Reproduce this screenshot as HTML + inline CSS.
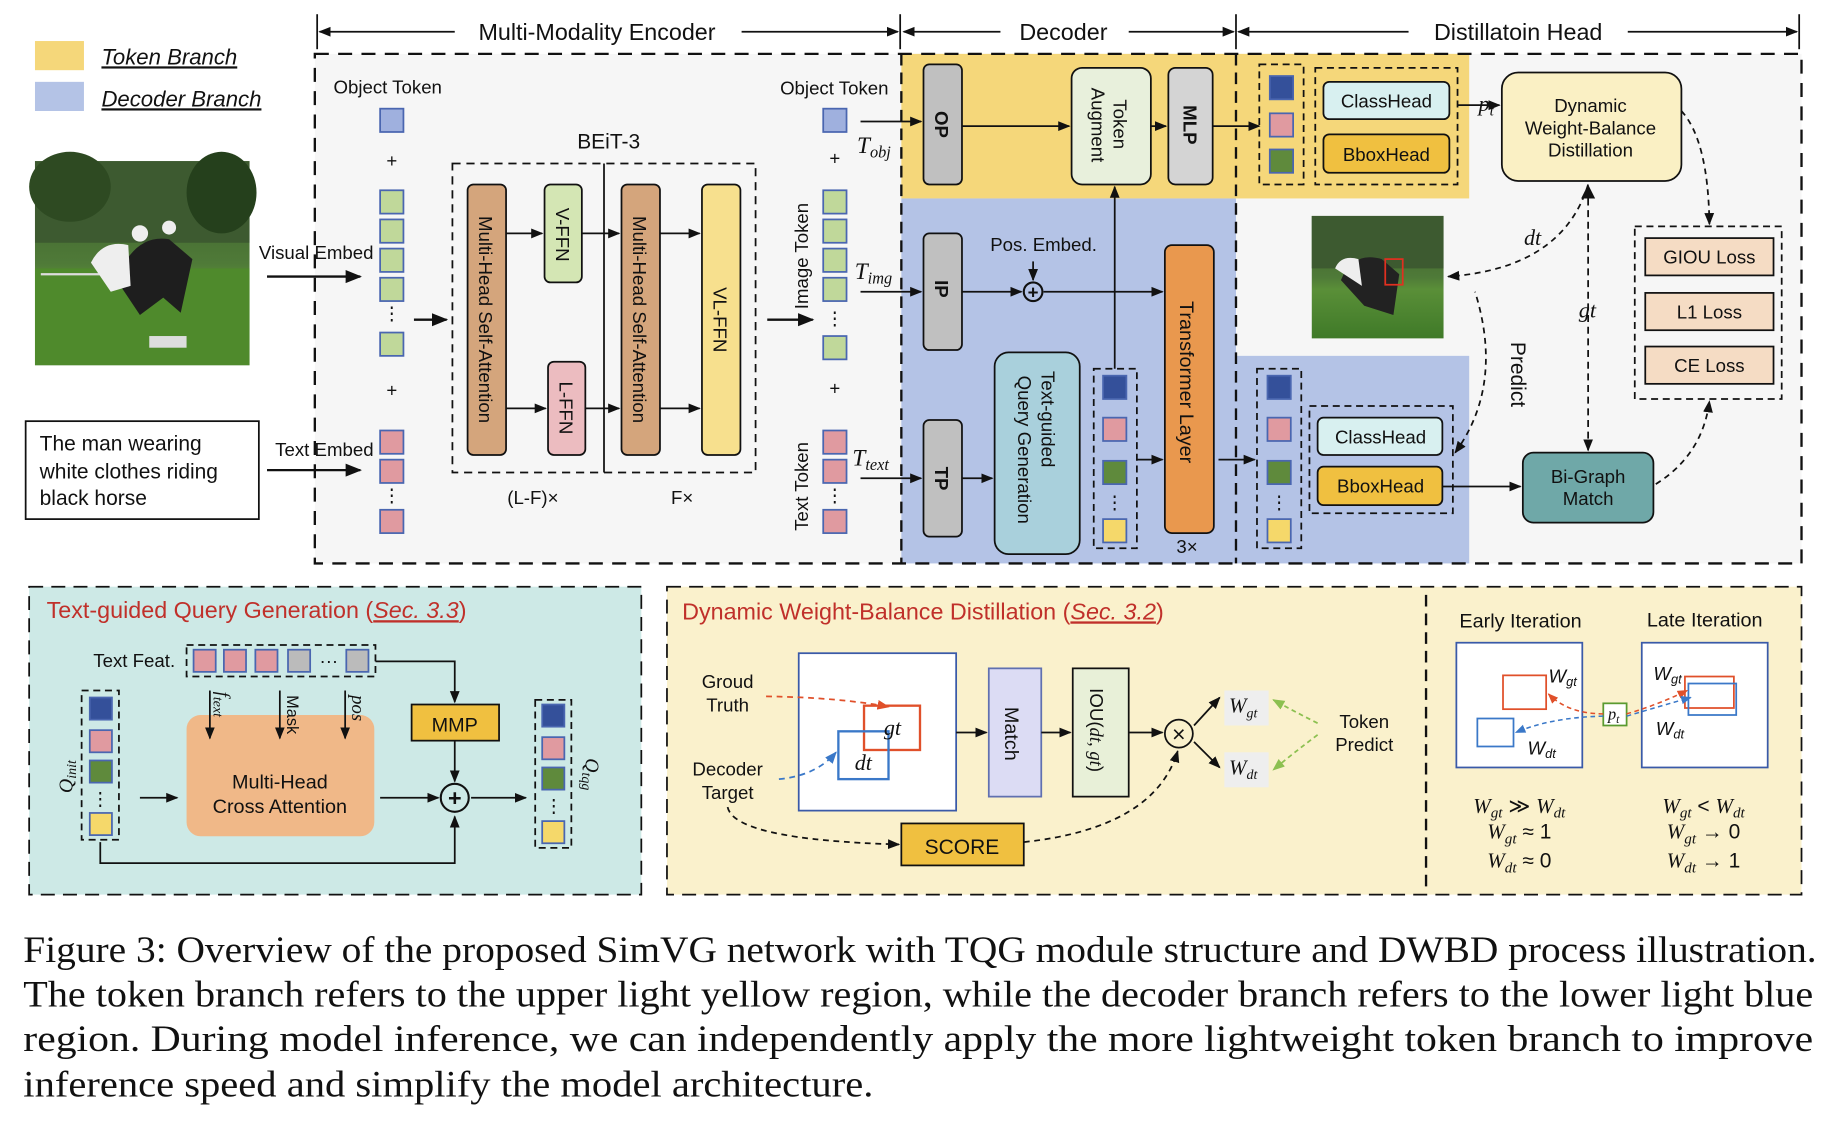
<!DOCTYPE html>
<html><head><meta charset="utf-8"><style>
html,body{margin:0;padding:0;background:#fff;}
svg{display:block}
text{font-family:"Liberation Sans",sans-serif;fill:#111}
.s{font-size:16px}
.m{font-family:"Liberation Serif",serif;font-style:italic}
.cap{font-family:"Liberation Serif",serif;font-size:32px}
</style></head><body>
<svg width="1826" height="1128" viewBox="0 0 1566 967" xmlns="http://www.w3.org/2000/svg">
<defs>
<marker id="a" viewBox="0 0 10 10" refX="9" refY="5" markerWidth="7" markerHeight="7" orient="auto-start-reverse"><path d="M0,1 L10,5 L0,9 z" fill="#111"/></marker>
<marker id="ar" viewBox="0 0 10 10" refX="9" refY="5" markerWidth="7" markerHeight="7" orient="auto"><path d="M0,1 L10,5 L0,9 z" fill="#e0502a"/></marker>
<marker id="ab" viewBox="0 0 10 10" refX="9" refY="5" markerWidth="7" markerHeight="7" orient="auto"><path d="M0,1 L10,5 L0,9 z" fill="#3a78c8"/></marker>
<marker id="ag" viewBox="0 0 10 10" refX="9" refY="5" markerWidth="7" markerHeight="7" orient="auto"><path d="M0,1 L10,5 L0,9 z" fill="#8cc050"/></marker>
<linearGradient id="ph" x1="0" y1="0" x2="0" y2="1"><stop offset="0" stop-color="#3a5a2a"/><stop offset="0.5" stop-color="#4f7a38"/><stop offset="0.6" stop-color="#5a8f38"/><stop offset="1" stop-color="#3f7a28"/></linearGradient>
</defs>

<!-- legend -->
<rect x="30" y="35" width="42" height="25" fill="#f5d77a"/>
<rect x="30" y="70" width="42" height="25" fill="#b4c3e6"/>
<text x="87" y="55" font-style="italic" text-decoration="underline" font-size="19">Token Branch</text>
<text x="87" y="91" font-style="italic" text-decoration="underline" font-size="19">Decoder Branch</text>

<!-- header -->
<g stroke="#111" stroke-width="1.5">
<line x1="272" y1="12" x2="272" y2="42"/><line x1="772" y1="12" x2="772" y2="42"/><line x1="1060" y1="12" x2="1060" y2="42"/><line x1="1543" y1="12" x2="1543" y2="42"/>
<line x1="274" y1="27" x2="390" y2="27" marker-start="url(#a)"/><line x1="636" y1="27" x2="770" y2="27" marker-end="url(#a)"/>
<line x1="775" y1="27" x2="858" y2="27" marker-start="url(#a)"/><line x1="968" y1="27" x2="1058" y2="27" marker-end="url(#a)"/>
<line x1="1062" y1="27" x2="1208" y2="27" marker-start="url(#a)"/><line x1="1396" y1="27" x2="1541" y2="27" marker-end="url(#a)"/>
</g>
<text x="512" y="34" font-size="20" text-anchor="middle">Multi-Modality Encoder</text>
<text x="912" y="34" font-size="20" text-anchor="middle">Decoder</text>
<text x="1302" y="34" font-size="20" text-anchor="middle">Distillatoin Head</text>

<!-- main region -->
<rect x="270" y="46" width="1275" height="437" fill="#f6f6f6"/>
<rect x="773" y="46" width="487" height="124" fill="#f5d77a"/>
<rect x="773" y="170" width="287" height="313" fill="#b4c3e6"/>
<rect x="1060" y="305" width="200" height="178" fill="#b4c3e6"/>
<rect x="270" y="46" width="1275" height="437" fill="none" stroke="#111" stroke-width="2" stroke-dasharray="12,8"/>
<line x1="773" y1="46" x2="773" y2="483" stroke="#111" stroke-width="2" stroke-dasharray="10,6"/>
<line x1="1060" y1="46" x2="1060" y2="483" stroke="#111" stroke-width="2" stroke-dasharray="10,6"/>

<!-- photo -->
<rect x="30" y="138" width="184" height="175" fill="url(#ph)"/>
<rect x="30" y="138" width="184" height="70" fill="#3d5a30"/>
<ellipse cx="60" cy="160" rx="35" ry="30" fill="#2e4a22"/><ellipse cx="190" cy="165" rx="30" ry="35" fill="#25401c"/>
<rect x="30" y="230" width="184" height="83" fill="#4f8a2c"/>
<line x1="35" y1="235" x2="100" y2="235" stroke="#ddd" stroke-width="2"/>
<path d="M100 240 Q115 200 145 205 L165 222 L155 268 L140 255 L120 270 Z" fill="#1e1e1e"/>
<path d="M78 225 Q88 205 110 210 L112 245 L95 250 Z" fill="#eee"/>
<circle cx="120" cy="200" r="7" fill="#eee"/><circle cx="145" cy="195" r="6" fill="#eee"/>
<rect x="128" y="288" width="32" height="10" fill="#ddd"/>

<!-- text box -->
<rect x="22" y="361" width="200" height="84" fill="#fff" stroke="#111" stroke-width="1.5"/>
<text x="34" y="386" font-size="18">The man wearing</text>
<text x="34" y="410" font-size="18">white clothes riding</text>
<text x="34" y="433" font-size="18">black horse</text>

<g stroke="#111" stroke-width="2">
<line x1="229" y1="237" x2="309" y2="237" marker-end="url(#a)"/>
<line x1="229" y1="403" x2="309" y2="403" marker-end="url(#a)"/>
<line x1="355" y1="274" x2="383" y2="274" marker-end="url(#a)"/>
<line x1="658" y1="274" x2="697" y2="274" marker-end="url(#a)"/>
</g>
<text x="222" y="222" class="s">Visual Embed</text>
<text x="236" y="391" class="s">Text Embed</text>

<!-- token columns -->
<g stroke="#4a66b0" stroke-width="1.5">
<rect x="326" y="93" width="20" height="20" fill="#9fb0de"/>
<rect x="326" y="163" width="20" height="20" fill="#c0d89a"/><rect x="326" y="188" width="20" height="20" fill="#c0d89a"/><rect x="326" y="213" width="20" height="20" fill="#c0d89a"/><rect x="326" y="238" width="20" height="20" fill="#c0d89a"/><rect x="326" y="285" width="20" height="20" fill="#c0d89a"/>
<rect x="326" y="369" width="20" height="20" fill="#e09aa0"/><rect x="326" y="394" width="20" height="20" fill="#e09aa0"/><rect x="326" y="437" width="20" height="20" fill="#e09aa0"/>
<rect x="706" y="93" width="20" height="20" fill="#9fb0de"/>
<rect x="706" y="163" width="20" height="20" fill="#c0d89a"/><rect x="706" y="188" width="20" height="20" fill="#c0d89a"/><rect x="706" y="213" width="20" height="20" fill="#c0d89a"/><rect x="706" y="238" width="20" height="20" fill="#c0d89a"/><rect x="706" y="288" width="20" height="20" fill="#c0d89a"/>
<rect x="706" y="369" width="20" height="20" fill="#e09aa0"/><rect x="706" y="394" width="20" height="20" fill="#e09aa0"/><rect x="706" y="437" width="20" height="20" fill="#e09aa0"/>
</g>
<g font-size="16" text-anchor="middle">
<text x="336" y="143">+</text><text x="336" y="274">⋮</text><text x="336" y="340">+</text><text x="336" y="430">⋮</text>
<text x="716" y="141">+</text><text x="716" y="278">⋮</text><text x="716" y="338">+</text><text x="716" y="430">⋮</text>
</g>
<text x="286" y="80" class="s">Object Token</text>
<text x="669" y="81" class="s">Object Token</text>
<text transform="translate(693,265) rotate(-90)" class="s">Image Token</text>
<text transform="translate(693,455) rotate(-90)" class="s">Text Token</text>

<!-- BEiT-3 -->
<text x="522" y="127" font-size="18" text-anchor="middle">BEiT-3</text>
<rect x="388" y="140" width="260" height="265" fill="none" stroke="#111" stroke-width="1.5" stroke-dasharray="7,5"/>
<line x1="518" y1="140" x2="518" y2="405" stroke="#111" stroke-width="1.5"/>
<g stroke="#111" stroke-width="1.5">
<rect x="401" y="158" width="33" height="232" rx="5" fill="#d4a57c"/>
<rect x="467" y="158" width="32" height="84" rx="5" fill="#d4e6b4"/>
<rect x="470" y="310" width="32" height="80" rx="5" fill="#ecbcc0"/>
<rect x="533" y="158" width="33" height="232" rx="5" fill="#d4a57c"/>
<rect x="602" y="158" width="33" height="232" rx="5" fill="#f7e08e"/>
<line x1="434" y1="200" x2="465" y2="200" marker-end="url(#a)"/>
<line x1="434" y1="350" x2="468" y2="350" marker-end="url(#a)"/>
<line x1="499" y1="200" x2="531" y2="200" marker-end="url(#a)"/>
<line x1="502" y1="350" x2="531" y2="350" marker-end="url(#a)"/>
<line x1="566" y1="200" x2="600" y2="200" marker-end="url(#a)"/>
<line x1="566" y1="350" x2="600" y2="350" marker-end="url(#a)"/>
</g>
<g class="s">
<text transform="translate(411,185) rotate(90)">Multi-Head Self-Attention</text>
<text transform="translate(477,178) rotate(90)">V-FFN</text>
<text transform="translate(480,327) rotate(90)">L-FFN</text>
<text transform="translate(543,185) rotate(90)">Multi-Head Self-Attention</text>
<text transform="translate(612,246) rotate(90)">VL-FFN</text>
</g>
<text x="457" y="432" class="s" text-anchor="middle">(L-F)×</text>
<text x="585" y="432" class="s" text-anchor="middle">F×</text>

<!-- decoder -->
<text x="735" y="131" class="m" font-size="20">T<tspan font-size="14" dy="4">obj</tspan></text>
<text x="733" y="239" class="m" font-size="20">T<tspan font-size="14" dy="4">img</tspan></text>
<text x="731" y="399" class="m" font-size="20">T<tspan font-size="14" dy="4">text</tspan></text>
<g stroke="#111" stroke-width="1.5">
<rect x="792" y="55" width="33" height="103" rx="5" fill="#c0c0c0"/>
<rect x="919" y="58" width="68" height="100" rx="9" fill="#e8f0dc"/>
<rect x="1002" y="58" width="38" height="100" rx="6" fill="#d4d4d4"/>
<rect x="792" y="200" width="33" height="100" rx="5" fill="#c0c0c0"/>
<rect x="792" y="360" width="33" height="100" rx="5" fill="#c0c0c0"/>
<rect x="853" y="302" width="73" height="173" rx="12" fill="#a9d0dc"/>
<rect x="999" y="210" width="42" height="247" rx="6" fill="#e9984e"/>
</g>
<g stroke="#111" stroke-width="1.5">
<line x1="738" y1="104" x2="790" y2="104" marker-end="url(#a)"/>
<line x1="825" y1="108" x2="917" y2="108" marker-end="url(#a)"/>
<line x1="987" y1="108" x2="1000" y2="108" marker-end="url(#a)"/>
<line x1="1040" y1="108" x2="1080" y2="108" marker-end="url(#a)"/>
<line x1="738" y1="250" x2="790" y2="250" marker-end="url(#a)"/>
<line x1="825" y1="250" x2="876" y2="250" marker-end="url(#a)"/>
<line x1="895" y1="250" x2="997" y2="250" marker-end="url(#a)"/>
<line x1="886" y1="224" x2="886" y2="240" marker-end="url(#a)"/>
<line x1="738" y1="410" x2="790" y2="410" marker-end="url(#a)"/>
<line x1="825" y1="410" x2="851" y2="410" marker-end="url(#a)"/>
<line x1="956" y1="316" x2="956" y2="160" marker-end="url(#a)"/>
<line x1="975" y1="394" x2="997" y2="394" marker-end="url(#a)"/>
<line x1="1045" y1="394" x2="1076" y2="394" marker-end="url(#a)"/>
</g>
<circle cx="886" cy="250" r="8" fill="none" stroke="#111" stroke-width="1.8"/>
<text x="886" y="256" text-anchor="middle" font-size="16" font-weight="bold">+</text>
<text x="895" y="215" class="s" text-anchor="middle">Pos. Embed.</text>
<g font-size="16" font-weight="bold">
<text transform="translate(802,95) rotate(90)">OP</text>
<text transform="translate(802,240) rotate(90)">IP</text>
<text transform="translate(802,400) rotate(90)">TP</text>
<text transform="translate(1015,90) rotate(90)">MLP</text>
</g>
<g class="s">
<text transform="translate(955,85) rotate(90)">Token</text>
<text transform="translate(936,75) rotate(90)">Augment</text>
<text transform="translate(893,318) rotate(90)">Text-guided</text>
<text transform="translate(873,322) rotate(90)">Query Generation</text>
<text transform="translate(1012,258) rotate(90)" font-size="17">Transformer Layer</text>
</g>
<text x="1018" y="474" class="s" text-anchor="middle">3×</text>

<!-- token stacks in decoder -->
<g fill="none" stroke="#111" stroke-width="1.5" stroke-dasharray="6,4">
<rect x="938" y="316" width="37" height="154"/>
<rect x="1078" y="316" width="38" height="154"/>
<rect x="1080" y="55" width="38" height="103"/>
<rect x="1128" y="58" width="122" height="100"/>
<rect x="1123" y="348" width="123" height="92"/>
</g>
<g stroke="#4a66b0" stroke-width="1.5">
<rect x="946" y="322" width="20" height="20" fill="#34509a"/><rect x="946" y="358" width="20" height="20" fill="#e09aa0"/><rect x="946" y="395" width="20" height="20" fill="#5f8a3c"/><rect x="946" y="445" width="20" height="20" fill="#f5d86a"/>
<rect x="1087" y="322" width="20" height="20" fill="#34509a"/><rect x="1087" y="358" width="20" height="20" fill="#e09aa0"/><rect x="1087" y="395" width="20" height="20" fill="#5f8a3c"/><rect x="1087" y="445" width="20" height="20" fill="#f5d86a"/>
<rect x="1089" y="65" width="20" height="20" fill="#34509a"/><rect x="1089" y="97" width="20" height="20" fill="#e09aa0"/><rect x="1089" y="128" width="20" height="20" fill="#5f8a3c"/>
</g>
<text x="956" y="436" text-anchor="middle" class="s">⋮</text><text x="1097" y="436" text-anchor="middle" class="s">⋮</text>

<!-- heads -->
<g stroke="#111" stroke-width="1.5">
<rect x="1135" y="70" width="108" height="32" rx="5" fill="#d8f0f0"/>
<rect x="1135" y="115" width="108" height="33" rx="5" fill="#f0c040"/>
<rect x="1130" y="358" width="107" height="32" rx="5" fill="#d8f0f0"/>
<rect x="1130" y="400" width="107" height="33" rx="5" fill="#f0c040"/>
<rect x="1288" y="62" width="154" height="93" rx="14" fill="#faf0c4"/>
<rect x="1306" y="388" width="112" height="60" rx="9" fill="#6fa8a8"/>
<rect x="1411" y="204" width="110" height="32" fill="#f5dcc4"/>
<rect x="1411" y="251" width="110" height="32" fill="#f5dcc4"/>
<rect x="1411" y="297" width="110" height="32" fill="#f5dcc4"/>
</g>
<rect x="1402" y="194" width="126" height="148" fill="none" stroke="#111" stroke-width="1.5" stroke-dasharray="6,4"/>
<g class="s" text-anchor="middle">
<text x="1189" y="92">ClassHead</text><text x="1189" y="138">BboxHead</text>
<text x="1184" y="380">ClassHead</text><text x="1184" y="422">BboxHead</text>
<text x="1364" y="96">Dynamic</text><text x="1364" y="115">Weight-Balance</text><text x="1364" y="134">Distillation</text>
<text x="1362" y="414">Bi-Graph</text><text x="1362" y="433">Match</text>
<text x="1466" y="226">GIOU Loss</text><text x="1466" y="273">L1 Loss</text><text x="1466" y="319">CE Loss</text>
</g>
<g stroke="#111" stroke-width="1.5">
<line x1="1250" y1="90" x2="1286" y2="90" marker-end="url(#a)"/>
<line x1="1237" y1="417" x2="1304" y2="417" marker-end="url(#a)"/>
<line x1="1362" y1="170" x2="1362" y2="386" stroke-dasharray="6,4" marker-end="url(#a)"/>
</g>
<g fill="none" stroke="#111" stroke-width="1.5" stroke-dasharray="5,4">
<path d="M1442 95 Q1465 120 1466 192" marker-end="url(#a)"/>
<path d="M1420 415 Q1460 390 1466 344" marker-end="url(#a)"/>
<path d="M1362 158 Q1340 230 1242 237" marker-end="url(#a)"/>
<path d="M1248 388 Q1290 330 1265 250" marker-start="url(#a)"/>
</g>
<polygon points="1356,170 1362,158 1368,170" fill="#111"/>
<text x="1268" y="95" class="m" font-size="19">p<tspan font-size="13" dy="4">t</tspan></text>
<text x="1307" y="210" class="m" font-size="19">dt</text>
<text x="1354" y="272" class="m" font-size="19">gt</text>
<text transform="translate(1296,293) rotate(90)" font-size="18">Predict</text>
<!-- small photo -->
<rect x="1125" y="185" width="113" height="105" fill="url(#ph)"/>
<rect x="1125" y="185" width="113" height="45" fill="#3d5a30"/>
<path d="M1150 240 Q1160 215 1185 222 L1200 235 L1195 270 L1170 262 Z" fill="#222"/>
<path d="M1145 230 Q1150 218 1165 222 L1168 245 Z" fill="#eee"/>
<rect x="1188" y="222" width="15" height="22" fill="none" stroke="#e03020" stroke-width="1.5"/>

<!-- bottom left panel -->
<rect x="25" y="503" width="525" height="264" fill="#cde9e6" stroke="#111" stroke-width="1.5" stroke-dasharray="12,7"/>
<text x="40" y="530" font-size="20" style="fill:#c0302a">Text-guided Query Generation (<tspan font-style="italic" text-decoration="underline">Sec. 3.3</tspan>)</text>
<text x="80" y="572" class="s">Text Feat.</text>
<rect x="160" y="553" width="162" height="27" fill="none" stroke="#111" stroke-width="1.5" stroke-dasharray="6,4"/>
<g stroke="#4a66b0" stroke-width="1.5">
<rect x="166" y="557" width="19" height="19" fill="#e09aa0"/><rect x="192" y="557" width="19" height="19" fill="#e09aa0"/><rect x="219" y="557" width="19" height="19" fill="#e09aa0"/><rect x="247" y="557" width="19" height="19" fill="#bbb"/><rect x="297" y="557" width="19" height="19" fill="#bbb"/>
</g>
<text x="282" y="572" class="s" text-anchor="middle">···</text>
<rect x="70" y="592" width="32" height="128" fill="none" stroke="#111" stroke-width="1.5" stroke-dasharray="6,4"/>
<rect x="459" y="600" width="31" height="127" fill="none" stroke="#111" stroke-width="1.5" stroke-dasharray="6,4"/>
<g stroke="#4a66b0" stroke-width="1.5">
<rect x="77" y="598" width="19" height="19" fill="#34509a"/><rect x="77" y="626" width="19" height="19" fill="#e09aa0"/><rect x="77" y="652" width="19" height="19" fill="#5f8a3c"/><rect x="77" y="697" width="19" height="19" fill="#f5d86a"/>
<rect x="465" y="604" width="19" height="19" fill="#34509a"/><rect x="465" y="632" width="19" height="19" fill="#e09aa0"/><rect x="465" y="658" width="19" height="19" fill="#5f8a3c"/><rect x="465" y="704" width="19" height="19" fill="#f5d86a"/>
</g>
<text x="86" y="690" text-anchor="middle" class="s">⋮</text><text x="475" y="696" text-anchor="middle" class="s">⋮</text>
<g stroke="#111" stroke-width="1.5">
<rect x="160" y="613" width="161" height="104" rx="12" fill="#f0b888" stroke="none"/>
<rect x="353" y="604" width="75" height="31" fill="#f0c040"/>
</g>
<text x="240" y="676" text-anchor="middle" font-size="17">Multi-Head</text>
<text x="240" y="697" text-anchor="middle" font-size="17">Cross Attention</text>
<text x="390" y="627" text-anchor="middle" font-size="17">MMP</text>
<g stroke="#111" stroke-width="1.5" fill="none">
<path d="M322 567 L390 567 L390 602" marker-end="url(#a)"/>
<line x1="180" y1="592" x2="180" y2="633" marker-end="url(#a)"/>
<line x1="240" y1="592" x2="240" y2="633" marker-end="url(#a)"/>
<line x1="296" y1="592" x2="296" y2="633" marker-end="url(#a)"/>
<line x1="120" y1="684" x2="152" y2="684" marker-end="url(#a)"/>
<line x1="326" y1="684" x2="376" y2="684" marker-end="url(#a)"/>
<line x1="390" y1="635" x2="390" y2="670" marker-end="url(#a)"/>
<line x1="404" y1="684" x2="451" y2="684" marker-end="url(#a)"/>
<path d="M86 722 L86 740 L390 740 L390 700" marker-end="url(#a)"/>
<circle cx="390" cy="684" r="12" stroke-width="1.8"/>
</g>
<text x="390" y="691" text-anchor="middle" font-size="20" font-weight="bold">+</text>
<text transform="translate(186,593) rotate(90)" class="m" font-size="16">f<tspan font-size="12" dy="3">text</tspan></text>
<text transform="translate(246,596) rotate(90)" font-size="14">Mask</text>
<text transform="translate(302,596) rotate(90)" class="m" font-size="16">pos</text>
<text transform="translate(62,680) rotate(-90)" class="m" font-size="17">Q<tspan font-size="12" dy="3">init</tspan></text>
<text transform="translate(502,650) rotate(90)" class="m" font-size="17">Q<tspan font-size="12" dy="3">tqg</tspan></text>

<!-- bottom right panel -->
<rect x="572" y="503" width="973" height="264" fill="#faf1cc" stroke="#111" stroke-width="1.5" stroke-dasharray="12,7"/>
<line x1="1223" y1="510" x2="1223" y2="762" stroke="#111" stroke-width="2" stroke-dasharray="10,6"/>
<text x="585" y="531" font-size="20" style="fill:#c0302a">Dynamic Weight-Balance Distillation (<tspan font-style="italic" text-decoration="underline">Sec. 3.2</tspan>)</text>
<text x="624" y="590" class="s" text-anchor="middle">Groud</text><text x="624" y="610" class="s" text-anchor="middle">Truth</text>
<text x="624" y="665" class="s" text-anchor="middle">Decoder</text><text x="624" y="685" class="s" text-anchor="middle">Target</text>
<rect x="685" y="560" width="135" height="135" fill="#fff" stroke="#3a5aa8" stroke-width="1.5"/>
<rect x="741" y="605" width="48" height="38" fill="none" stroke="#e0502a" stroke-width="2"/>
<rect x="719" y="627" width="43" height="41" fill="none" stroke="#3a78c8" stroke-width="2"/>
<text x="758" y="630" class="m" font-size="19">gt</text><text x="733" y="660" class="m" font-size="19">dt</text>
<path d="M657 597 Q720 598 762 606" fill="none" stroke="#e0502a" stroke-width="1.5" stroke-dasharray="5,4" marker-end="url(#ar)"/>
<path d="M668 668 Q700 665 717 645" fill="none" stroke="#3a78c8" stroke-width="1.5" stroke-dasharray="5,4" marker-end="url(#ab)"/>
<path d="M624 692 Q630 720 771 724" fill="none" stroke="#111" stroke-width="1.5" stroke-dasharray="5,4" marker-end="url(#a)"/>
<g stroke="#111" stroke-width="1.5">
<rect x="848" y="573" width="45" height="110" fill="#dcdcf4" stroke="#6070b0"/>
<rect x="920" y="573" width="48" height="110" fill="#e8f0d8"/>
<rect x="773" y="706" width="105" height="36" fill="#f0c040"/>
<line x1="820" y1="628" x2="846" y2="628" marker-end="url(#a)"/>
<line x1="893" y1="628" x2="918" y2="628" marker-end="url(#a)"/>
<line x1="968" y1="628" x2="997" y2="628" marker-end="url(#a)"/>
<line x1="1024" y1="622" x2="1046" y2="598" marker-end="url(#a)"/>
<line x1="1024" y1="636" x2="1046" y2="658" marker-end="url(#a)"/>
<circle cx="1011" cy="629" r="12" fill="none"/>
</g>
<path d="M878 722 Q990 710 1010 644" fill="none" stroke="#111" stroke-width="1.5" stroke-dasharray="5,4" marker-end="url(#a)"/>
<text x="1011" y="636" text-anchor="middle" font-size="20">×</text>
<text x="825" y="732" text-anchor="middle" font-size="18">SCORE</text>
<text transform="translate(862,606) rotate(90)" font-size="17">Match</text>
<text transform="translate(935,590) rotate(90)" class="s">IOU(<tspan class="m">dt, gt</tspan>)</text>
<rect x="1050" y="592" width="38" height="30" fill="#eee"/><rect x="1050" y="645" width="38" height="30" fill="#eee"/>
<text x="1054" y="611" class="m" font-size="18">W<tspan font-size="12" dy="4">gt</tspan></text>
<text x="1054" y="664" class="m" font-size="18">W<tspan font-size="12" dy="4">dt</tspan></text>
<path d="M1130 620 Q1110 610 1092 600" fill="none" stroke="#8cc050" stroke-width="1.5" stroke-dasharray="4,3" marker-end="url(#ag)"/>
<path d="M1130 630 Q1110 645 1092 660" fill="none" stroke="#8cc050" stroke-width="1.5" stroke-dasharray="4,3" marker-end="url(#ag)"/>
<text x="1170" y="624" class="s" text-anchor="middle">Token</text><text x="1170" y="644" class="s" text-anchor="middle">Predict</text>

<text x="1304" y="538" font-size="17" text-anchor="middle">Early Iteration</text>
<text x="1462" y="537" font-size="17" text-anchor="middle">Late Iteration</text>
<rect x="1249" y="551" width="108" height="107" fill="#fff" stroke="#3a5aa8" stroke-width="1.5"/>
<rect x="1408" y="551" width="108" height="107" fill="#fff" stroke="#3a5aa8" stroke-width="1.5"/>
<rect x="1289" y="579" width="37" height="29" fill="none" stroke="#e0502a" stroke-width="1.5"/>
<rect x="1267" y="616" width="31" height="24" fill="none" stroke="#3a78c8" stroke-width="1.5"/>
<rect x="1445" y="580" width="42" height="27" fill="none" stroke="#e0502a" stroke-width="1.5"/>
<rect x="1448" y="586" width="41" height="27" fill="none" stroke="#3a78c8" stroke-width="1.5"/>
<rect x="1375" y="603" width="20" height="19" fill="#fff" stroke="#5a9a30" stroke-width="1.5"/>
<text x="1379" y="617" class="m" font-size="14">p<tspan font-size="10" dy="3">t</tspan></text>
<path d="M1375 612 Q1345 612 1328 595" fill="none" stroke="#e0502a" stroke-width="1.3" stroke-dasharray="4,3" marker-end="url(#ar)"/>
<path d="M1375 614 Q1330 615 1300 628" fill="none" stroke="#3a78c8" stroke-width="1.3" stroke-dasharray="4,3" marker-end="url(#ab)"/>
<path d="M1395 612 Q1420 605 1447 592" fill="none" stroke="#e0502a" stroke-width="1.3" stroke-dasharray="4,3" marker-end="url(#ar)"/>
<path d="M1395 614 Q1425 605 1450 598" fill="none" stroke="#3a78c8" stroke-width="1.3" stroke-dasharray="4,3" marker-end="url(#ab)"/>
<g class="m" font-size="16">
<text x="1328" y="585">W<tspan font-size="11" dy="3">gt</tspan></text>
<text x="1310" y="647">W<tspan font-size="11" dy="3">dt</tspan></text>
<text x="1418" y="583">W<tspan font-size="11" dy="3">gt</tspan></text>
<text x="1420" y="630">W<tspan font-size="11" dy="3">dt</tspan></text>
</g>
<g font-size="18" text-anchor="middle">
<text x="1303" y="697"><tspan class="m">W</tspan><tspan class="m" font-size="13" dy="4">gt</tspan><tspan dy="-4"> ≫ </tspan><tspan class="m">W</tspan><tspan class="m" font-size="13" dy="4">dt</tspan></text>
<text x="1303" y="719"><tspan class="m">W</tspan><tspan class="m" font-size="13" dy="4">gt</tspan><tspan dy="-4"> ≈ 1</tspan></text>
<text x="1303" y="744"><tspan class="m">W</tspan><tspan class="m" font-size="13" dy="4">dt</tspan><tspan dy="-4"> ≈ 0</tspan></text>
<text x="1461" y="697"><tspan class="m">W</tspan><tspan class="m" font-size="13" dy="4">gt</tspan><tspan dy="-4"> &lt; </tspan><tspan class="m">W</tspan><tspan class="m" font-size="13" dy="4">dt</tspan></text>
<text x="1461" y="719"><tspan class="m">W</tspan><tspan class="m" font-size="13" dy="4">gt</tspan><tspan dy="-4"> → 0</tspan></text>
<text x="1461" y="744"><tspan class="m">W</tspan><tspan class="m" font-size="13" dy="4">dt</tspan><tspan dy="-4"> → 1</tspan></text>
</g>

<!-- caption -->
<text x="20" y="825" class="cap" textLength="1538" lengthAdjust="spacingAndGlyphs">Figure 3: Overview of the proposed SimVG network with TQG module structure and DWBD process illustration.</text>
<text x="20" y="863" class="cap" textLength="1535" lengthAdjust="spacingAndGlyphs">The token branch refers to the upper light yellow region, while the decoder branch refers to the lower light blue</text>
<text x="20" y="901" class="cap" textLength="1535" lengthAdjust="spacingAndGlyphs">region. During model inference, we can independently apply the more lightweight token branch to improve</text>
<text x="20" y="940" class="cap" textLength="729" lengthAdjust="spacingAndGlyphs">inference speed and simplify the model architecture.</text>
</svg>
</body></html>
